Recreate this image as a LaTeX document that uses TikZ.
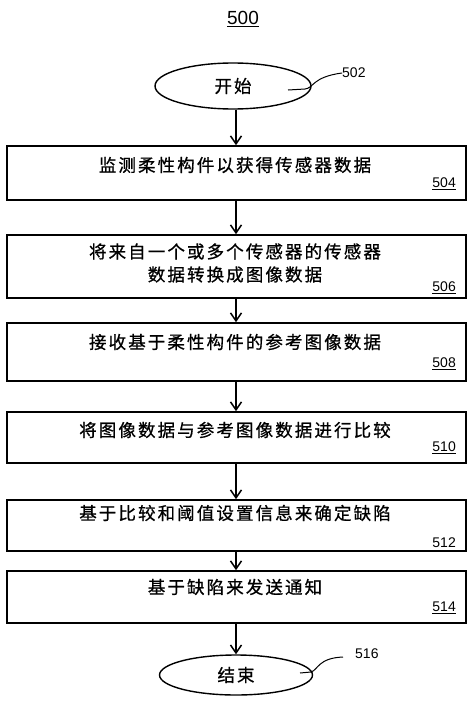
\documentclass[tikz,border=0pt]{standalone}
\usepackage{fontspec}
\setmainfont{Liberation Sans}
\newfontfamily\cjk[LetterSpace=12,FakeBold=0.8]{Noto Sans CJK SC}
\usetikzlibrary{shapes.geometric,arrows.meta}
\tikzset{
  box/.style={draw, line width=1.6pt, rectangle, minimum width=459pt, inner sep=0pt},
  oval/.style={draw, line width=1.4pt, ellipse, inner sep=0pt, font=\cjk\fontsize{17.5}{19}\selectfont},
  txt/.style={font=\cjk\fontsize{17.5}{23}\selectfont, align=center, inner sep=0pt},
  num/.style={font=\fontsize{14}{16}\selectfont, inner sep=0pt, anchor=east},
  flow/.style={line width=1.5pt, -{Straight Barb[length=8pt,width=11pt,line width=1.5pt]}},
  leader/.style={line width=1pt}
}
\begin{document}
\begin{tikzpicture}[x=1pt,y=-1pt]
\useasboundingbox (0,0) rectangle (474,704);
\node[font=\fontsize{19}{21}\selectfont, inner sep=0pt] (title) at (243,19) {\underline{500}};

\node[oval, minimum width=156pt, minimum height=46pt] (start) at (233,86) {开始};
\node[num, anchor=west] (n502) at (342,73) {502};
\coordinate (l502) at (288,90);
\draw[leader] (l502) -- (305,89) .. controls (314,88) and (312,77) .. (n502.west);

\node[box, minimum height=54pt] (b504) at (236.5,173) {};
\node[txt] (t504) at (235,165) {监测柔性构件以获得传感器数据};
\node[num] (n504) at (456,184) {\underline{504}};

\node[box, minimum height=63pt] (b506) at (236.5,266.5) {};
\node[txt] (t506) at (235,263) {将来自一个或多个传感器的传感器\\数据转换成图像数据};
\node[num] (n506) at (456,288) {\underline{506}};

\node[box, minimum height=58pt] (b508) at (236.5,352) {};
\node[txt] (t508) at (235,342) {接收基于柔性构件的参考图像数据};
\node[num] (n508) at (456,364) {\underline{508}};

\node[box, minimum height=51pt] (b510) at (236.5,437.5) {};
\node[txt] (t510) at (235,430) {将图像数据与参考图像数据进行比较};
\node[num] (n510) at (456,448) {\underline{510}};

\node[box, minimum height=51pt] (b512) at (236.5,525.5) {};
\node[txt] (t512) at (235,513) {基于比较和阈值设置信息来确定缺陷};
\node[num] (n512) at (456,543) {512};

\node[box, minimum height=52pt] (b514) at (236.5,597) {};
\node[txt] (t514) at (235,587) {基于缺陷来发送通知};
\node[num] (n514) at (456,608) {\underline{514}};

\node[oval, minimum width=153pt, minimum height=40pt] (end) at (236,675) {结束};
\node[num, anchor=west] (n516) at (355,654) {516};
\coordinate (l516) at (300,673);
\draw[leader] (l516) -- (311,672) .. controls (318,670) and (318,658) .. (343,657);

\draw[flow] (start.south -| 236,0) -- (b504.north -| 236,0);
\draw[flow] (b504.south -| 236,0) -- (b506.north -| 236,0);
\draw[flow] (b506.south -| 236,0) -- (b508.north -| 236,0);
\draw[flow] (b508.south -| 236,0) -- (b510.north -| 236,0);
\draw[flow] (b510.south -| 236,0) -- (b512.north -| 236,0);
\draw[flow] (b512.south -| 236,0) -- (b514.north -| 236,0);
\draw[flow] (b514.south -| 236,0) -- (end.north);
\end{tikzpicture}
\end{document}
